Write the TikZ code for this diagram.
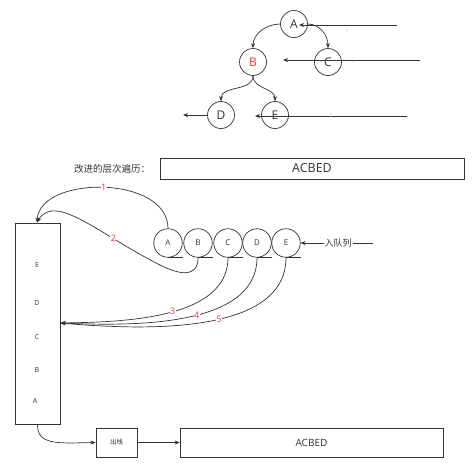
\documentclass[tikz,border=0pt]{standalone}
\usepackage{fontspec}
\setmainfont{Open Sans}
\newfontfamily\cjk{Noto Sans CJK SC}
\usetikzlibrary{arrows.meta}
\definecolor{ln}{HTML}{333333}
\definecolor{rd}{HTML}{FF3333}
\definecolor{pk}{HTML}{FFB0B0}
\tikzset{
  arr/.style={draw=ln, line width=0.7pt, -{Stealth[length=5pt,width=4pt]}},
  ln/.style={draw=ln, line width=0.7pt},
  tcirc/.style={circle, draw=ln, line width=0.7pt, minimum size=27pt, inner sep=0pt, font=\fontsize{12}{12}\selectfont, text=ln},
  qcirc/.style={circle, draw=ln, line width=0.7pt, minimum size=28.5pt, inner sep=0pt, font=\fontsize{8}{8}\selectfont, text=ln},
  box/.style={draw=ln, line width=0.7pt, inner sep=0pt},
  num/.style={text=rd, font=\fontsize{9}{9}\selectfont, fill=white, inner sep=0.5pt},
  faint/.style={text=pk, font=\fontsize{5}{5}\selectfont, inner sep=0pt},
  slab/.style={font=\fontsize{7}{7}\selectfont, text=ln}
}
\begin{document}
\begin{tikzpicture}[x=1pt,y=-1pt]
\useasboundingbox (0,0) rectangle (474,467);
% ---------- tree ----------
\node[tcirc] (A) at (294,24) {A};
\node[tcirc, text=rd] (B) at (253,62) {B};
\node[tcirc] (C) at (328,62) {C};
\node[tcirc] (D) at (221,115) {D};
\node[tcirc] (E) at (275,115) {E};
\draw[arr] (A.west) to[out=180,in=90] (B.north);
\draw[arr] (A.east) to[out=0,in=90] (C.north);
\draw[arr] (B.south) to[out=-90,in=90] (D.north);
\draw[arr] (B.south) to[out=-90,in=90] (E.north);
\coordinate (s1) at (397,25);
\coordinate (e1) at (299,25);
\coordinate (s2) at (420,60);
\coordinate (e2) at (283,60);
\coordinate (s3) at (407,116);
\coordinate (e3) at (255,116);
\coordinate (e4) at (183,115);
\draw[arr] (s1) -- (e1);
\draw[arr] (s2) -- (e2);
\draw[arr] (s3) -- (e3);
\draw[arr] (D.west) -- (e4);
\node[faint] (n1) at (347,31) {1};
\node[faint] (n2) at (353,61) {2};
\node[faint] (n3) at (331,116) {3};
% ---------- improved level order ----------
\node[font=\cjk\fontsize{9.5}{9.5}\selectfont, text=ln] (lbl) at (112,169) {改进的层次遍历：};
\node[box, minimum width=304pt, minimum height=21pt, font=\fontsize{12.5}{12.5}\selectfont, text=ln] (res1) at (312,168.5) {ACBED};
% ---------- queue ----------
\node[qcirc] (QA) at (168,243) {A};
\node[qcirc] (QB) at (198,243) {B};
\node[qcirc] (QC) at (228,243) {C};
\node[qcirc] (QD) at (257,243) {D};
\node[qcirc] (QE) at (286,243) {E};
\foreach \q in {QA,QB,QC,QD,QE}{
  \draw[ln] (\q.south) -- ++(14.5,0);
}
\coordinate (qs) at (373,243);
\draw[arr] (qs) -- (QE.east);
\node[font=\cjk\fontsize{9}{9}\selectfont, text=ln, fill=white, inner sep=1pt] (enq) at (338,243) {入队列};
% ---------- stack ----------
\node[box, minimum width=45pt, minimum height=201pt] (S) at (37.5,323.5) {};
\node[slab] (sE) at (37,265) {E};
\node[slab] (sD) at (37,303) {D};
\node[slab] (sC) at (37,337) {C};
\node[slab] (sB) at (37,370) {B};
\node[slab] (sA) at (35,401) {A};
\coordinate (stop) at (37,222.5);
\coordinate (sright) at (60.5,323);
\draw[arr] (QA.north) .. controls (168,175) and (40,175) .. (stop) node[pos=0.5, num] {1};
\draw[ln] (QB.south) .. controls (198,278) and (180,275) .. (160,265);
\draw[arr] (160,265) .. controls (100,235) and (55,192) .. (stop) node[pos=0.28, num] {2};
\draw[arr] (QC.south) .. controls (228,320) and (120,322) .. (sright) node[pos=0.47, num] {3};
\draw[arr] (QD.south) .. controls (257,328) and (130,326) .. (sright) node[pos=0.45, num] {4};
\draw[arr] (QE.south) .. controls (286,336) and (140,330) .. (sright) node[pos=0.44, num] {5};
% ---------- pop ----------
\node[box, minimum width=41pt, minimum height=29pt, font=\cjk\fontsize{6.5}{6.5}\selectfont, text=ln] (pop) at (116.5,442.5) {出栈};
\node[box, minimum width=263pt, minimum height=29pt, font=\fontsize{10}{10}\selectfont, text=ln] (res2) at (311.5,442.5) {ACBED};
\draw[arr] (S.south) .. controls (37,446) and (60,443) .. (pop.west);
\draw[arr] (pop.east) -- (res2.west);
\end{tikzpicture}
\end{document}
